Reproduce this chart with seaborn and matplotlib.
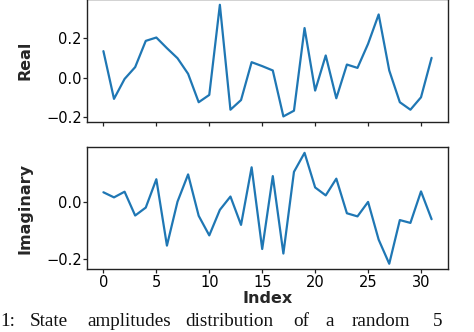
import numpy as np
import pandas as pd
import matplotlib
matplotlib.use("Agg")
import matplotlib.pyplot as plt
from matplotlib.ticker import FixedLocator, FuncFormatter
import seaborn as sns

# ---- data ----
index = list(range(32))
real = [0.134, -0.108, -0.007, 0.053, 0.186, 0.203, 0.149, 0.098,
        0.019, -0.125, -0.088, 0.369, -0.163, -0.114, 0.078, 0.058,
        0.036, -0.197, -0.168, 0.251, -0.066, 0.112, -0.105, 0.066,
        0.049, 0.171, 0.320, 0.036, -0.125, -0.163, -0.100, 0.100]
imag = [0.034, 0.016, 0.036, -0.048, -0.020, 0.080, -0.154, 0.001,
        0.097, -0.049, -0.118, -0.028, 0.019, -0.081, 0.122, -0.166,
        0.091, -0.182, 0.106, 0.173, 0.051, 0.023, 0.082, -0.040,
        -0.051, 0.000, -0.133, -0.218, -0.064, -0.074, 0.037, -0.061]
xticks = [0, 5, 10, 15, 20, 25, 30]
yticks = [-0.2, 0.0, 0.2]
caption_words = ["1:", "State", "amplitudes", "distribution", "of", "a", "random", "5"]

# ---- layout ----
caption_x_px = [0.5, 29.5, 87.5, 185, 293, 325, 352, 433]

sns.set_theme(style="ticks")
plt.rcParams.update({
    "font.family": ["DejaVu Sans"],
    "axes.edgecolor": "#222222",
    "axes.linewidth": 1.0,
    "xtick.color": "#222222",
    "ytick.color": "#222222",
    "xtick.labelcolor": "black",
    "ytick.labelcolor": "black",
    "xtick.major.size": 2.6,
    "ytick.major.size": 2.6,
    "xtick.major.pad": 1.5,
    "ytick.major.pad": 1.2,
    "xtick.major.width": 0.9,
    "ytick.major.width": 0.9,
})

W, H = 474, 332
fig = plt.figure(figsize=(W / 100, H / 100), dpi=100)
left = 87 / W
width = 361 / W
ax_h = 122 / H
ax1 = fig.add_axes([left, (H - 122) / H, width, ax_h + 0.8 / H])
ax2 = fig.add_axes([left, (H - 269.3) / H, width, ax_h], sharex=ax1)

df = pd.DataFrame({"Index": index, "Real": real, "Imaginary": imag})
color = "#1f77b4"
sns.lineplot(data=df, x="Index", y="Real", ax=ax1, color=color, linewidth=1.6)
sns.lineplot(data=df, x="Index", y="Imaginary", ax=ax2, color=color, linewidth=1.6)

fmt = FuncFormatter(lambda v, p: f"{v:.1f}".replace("-", "\u2212"))
for ax, lab in [(ax1, "Real"), (ax2, "Imaginary")]:
    ax.yaxis.set_major_locator(FixedLocator(yticks))
    ax.yaxis.set_major_formatter(fmt)
    ax.tick_params(axis="y", labelsize=10.5)
    ax.set_ylabel(lab, fontsize=11.5, fontweight="bold")
    ax.yaxis.set_label_coords(-0.152, 0.5)
    for s in ax.spines.values():
        s.set_visible(True)

ax1.xaxis.set_major_locator(FixedLocator(xticks))
ax1.tick_params(axis="x", labelbottom=False)
ax1.set_xlabel("")
ax2.tick_params(axis="x", labelsize=10.5, labelbottom=True)
ax2.set_xlabel("Index", fontsize=11.5, fontweight="bold")
ax2.xaxis.set_label_coords(0.5, -0.175)

for w, xp in zip(caption_words, caption_x_px):
    fig.text(xp / W, 5.5 / H, w, fontsize=13.8, family=["Liberation Serif", "DejaVu Serif"],
             ha="left", va="baseline", color="#111111")

fig.savefig("out.png", dpi=100)
